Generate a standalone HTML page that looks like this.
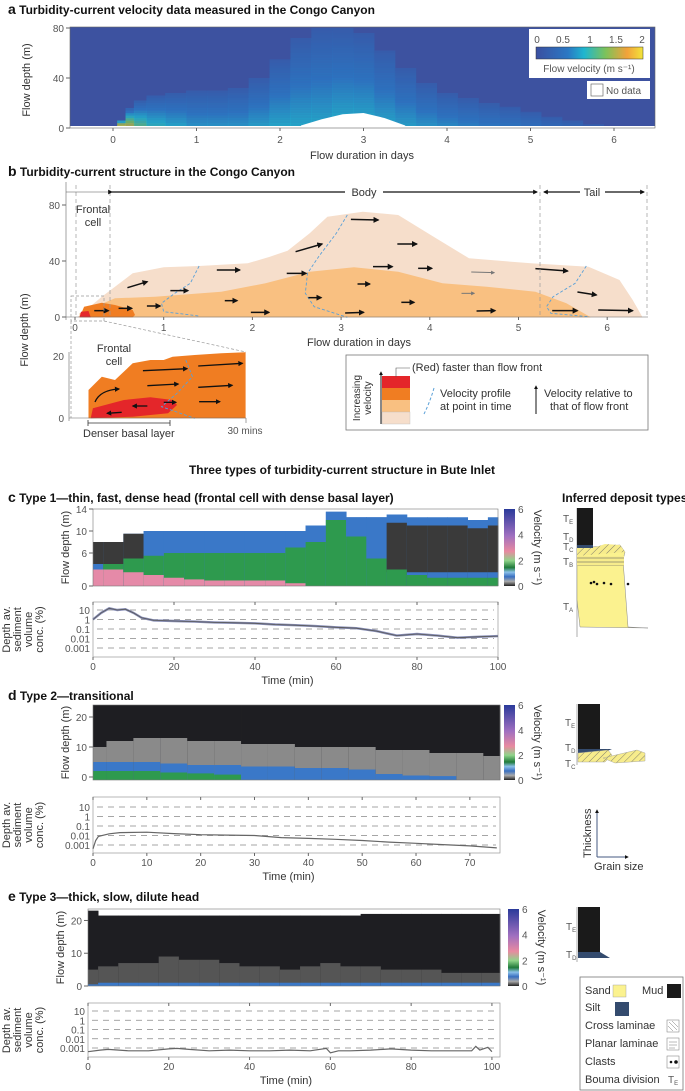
<!DOCTYPE html>
<html><head><meta charset="utf-8"><style>
html,body{margin:0;padding:0;background:#fff}
svg{display:block;font-family:"Liberation Sans",sans-serif}
.t{font-weight:bold;font-size:12px;fill:#111}
.k{font-size:10px;fill:#555}
.l{font-size:11px;fill:#333}
</style></head><body>
<svg id="fig" width="685" height="1091" viewBox="0 0 685 1091" xmlns="http://www.w3.org/2000/svg">
<defs>
<linearGradient id="gA" x1="0" x2="1" y1="0" y2="0"><stop offset="0" stop-color="#3b4fa0"/><stop offset="0.3" stop-color="#2a78c4"/><stop offset="0.45" stop-color="#1fb6cf"/><stop offset="0.65" stop-color="#7cc25a"/><stop offset="0.85" stop-color="#f2a23a"/><stop offset="1" stop-color="#f2e43a"/></linearGradient>
<linearGradient id="gV" x1="0" x2="0" y1="1" y2="0"><stop offset="0" stop-color="#222"/><stop offset="0.06" stop-color="#aaa"/><stop offset="0.12" stop-color="#3a6fc0"/><stop offset="0.18" stop-color="#8bc0e8"/><stop offset="0.24" stop-color="#1f7a3a"/><stop offset="0.33" stop-color="#8fd48a"/><stop offset="0.45" stop-color="#e88aa0"/><stop offset="0.65" stop-color="#a070c0"/><stop offset="1" stop-color="#2a3a9a"/></linearGradient>
<pattern id="hatch" width="5" height="5" patternUnits="userSpaceOnUse" patternTransform="rotate(45)"><rect width="5" height="5" fill="#f7ec8c"/><line x1="0" y1="0" x2="0" y2="5" stroke="#666" stroke-width="0.8"/></pattern>
<pattern id="plan" width="6" height="4" patternUnits="userSpaceOnUse"><rect width="6" height="4" fill="#f7ec8c"/><line x1="0" y1="2" x2="6" y2="2" stroke="#666" stroke-width="0.6"/></pattern>
<marker id="ah" viewBox="0 0 10 10" refX="8" refY="5" markerWidth="4" markerHeight="4" orient="auto"><path d="M0,0L10,5L0,10z" fill="#111"/></marker>
<marker id="ahg" viewBox="0 0 10 10" refX="8" refY="5" markerWidth="4" markerHeight="4" orient="auto"><path d="M0,0L10,5L0,10z" fill="#777"/></marker>
</defs>

<!-- Panel a -->
<text x="8" y="14" class="t"><tspan font-size="14">a</tspan> Turbidity-current velocity data measured in the Congo Canyon</text>
<rect x="70" y="27" width="585" height="101" fill="#3d52a0"/>
<g id="aHeat"></g>
<g id="aAxes"></g>
<text x="30" y="80" class="l" transform="rotate(-90 30 80)" text-anchor="middle">Flow depth (m)</text>
<text x="362" y="159" class="l" text-anchor="middle">Flow duration in days</text>
<g>
<rect x="529" y="29" width="121" height="49" fill="#fff"/>
<rect x="536" y="47" width="107" height="12" fill="url(#gA)" stroke="#333" stroke-width="0.5"/>
<text x="537" y="43" class="k" text-anchor="middle">0</text><text x="563" y="43" class="k" text-anchor="middle">0.5</text><text x="590" y="43" class="k" text-anchor="middle">1</text><text x="616" y="43" class="k" text-anchor="middle">1.5</text><text x="642" y="43" class="k" text-anchor="middle">2</text>
<text x="589" y="72" class="k" text-anchor="middle">Flow velocity (m s⁻¹)</text>
</g>
<g><rect x="587" y="81" width="63" height="18" fill="#fff"/><rect x="591" y="84" width="12" height="12" fill="#fff" stroke="#555" stroke-width="0.6"/><text x="606" y="94" class="k" font-size="11">No data</text></g>

<!-- Panel b -->
<text x="8" y="176" class="t"><tspan font-size="14">b</tspan> Turbidity-current structure in the Congo Canyon</text>
<g id="bMain"></g>
<text x="28" y="330" class="l" transform="rotate(-90 28 330)" text-anchor="middle">Flow depth (m)</text>
<text x="359" y="346" class="l" text-anchor="middle">Flow duration in days</text>
<g>
<line x1="66" y1="192" x2="108" y2="192" stroke="#555" stroke-width="0.6"/>
<line x1="112" y1="192" x2="345" y2="192" stroke="#111" stroke-width="1.2" marker-start="url(#ah)"/>
<line x1="383" y1="192" x2="537" y2="192" stroke="#111" stroke-width="1.2" marker-end="url(#ah)"/>
<text x="364" y="196" class="l" text-anchor="middle">Body</text>
<line x1="580" y1="192" x2="544" y2="192" stroke="#111" stroke-width="1.2" marker-end="url(#ah)"/>
<line x1="605" y1="192" x2="644" y2="192" stroke="#111" stroke-width="1.2" marker-end="url(#ah)"/>
<text x="592" y="196" class="l" text-anchor="middle">Tail</text>
<text x="93" y="213" class="l" text-anchor="middle">Frontal</text><text x="93" y="226" class="l" text-anchor="middle">cell</text>
</g>
<g id="bInset"></g>
<g>
<rect x="346" y="355" width="302" height="75" fill="#fff" stroke="#777" stroke-width="0.8"/>
<text x="360" y="398" font-size="10" fill="#333" transform="rotate(-90 360 398)" text-anchor="middle">Increasing</text>
<text x="371" y="398" font-size="10" fill="#333" transform="rotate(-90 371 398)" text-anchor="middle">velocity</text>
<line x1="381" y1="424" x2="381" y2="372" stroke="#111" stroke-width="1" marker-end="url(#ah)"/>
<rect x="382" y="376" width="28" height="12" fill="#e4262a"/><rect x="382" y="388" width="28" height="12" fill="#f07d22"/><rect x="382" y="400" width="28" height="12" fill="#f9c081"/><rect x="382" y="412" width="28" height="12" fill="#f6decb" stroke="#bbb" stroke-width="0.4"/>
<polyline points="396,377 396,368 410,368" fill="none" stroke="#555" stroke-width="0.6"/>
<text x="412" y="371" class="l">(Red) faster than flow front</text>
<path d="M434,388 Q430,402 424,414" fill="none" stroke="#5aa0d8" stroke-dasharray="3,2"/>
<text x="440" y="397" class="l">Velocity profile</text><text x="440" y="410" class="l">at point in time</text>
<line x1="536" y1="414" x2="536" y2="386" stroke="#111" marker-end="url(#ah)"/>
<text x="544" y="397" class="l">Velocity relative to</text><text x="550" y="410" class="l">that of flow front</text>
</g>

<text x="342" y="474" class="t" text-anchor="middle" font-size="11.5">Three types of turbidity-current structure in Bute Inlet</text>
<text x="8" y="502" class="t"><tspan font-size="14">c</tspan> Type 1—thin, fast, dense head (frontal cell with dense basal layer)</text>
<text x="562" y="502" class="t">Inferred deposit types</text>
<text x="8" y="700" class="t"><tspan font-size="14">d</tspan> Type 2—transitional</text>
<text x="8" y="901" class="t"><tspan font-size="14">e</tspan> Type 3—thick, slow, dilute head</text>
<g id="cde"></g>
<g id="deposits"></g>
<g>
<rect x="580" y="977" width="103" height="113" fill="#fff" stroke="#777" stroke-width="0.8"/>
<text x="585" y="994" class="l">Sand</text><rect x="613" y="985" width="13" height="12" fill="#fbf28f" stroke="#999" stroke-width="0.4"/>
<text x="642" y="994" class="l">Mud</text><rect x="667" y="984" width="14" height="14" fill="#1a1a1a"/>
<text x="585" y="1011" class="l">Silt</text><rect x="615" y="1002" width="14" height="14" fill="#344b6e"/>
<text x="585" y="1029" class="l">Cross laminae</text><rect x="667" y="1020" width="12" height="12" fill="#fff" stroke="#777" stroke-width="0.5"/><path d="M669,1022l8,8M672,1021l6,6M668,1026l5,5" stroke="#777" stroke-width="0.5"/>
<text x="585" y="1047" class="l">Planar laminae</text><rect x="667" y="1038" width="12" height="12" fill="#fff" stroke="#777" stroke-width="0.5"/><path d="M669,1042h8M669,1045h8M669,1048h6" stroke="#777" stroke-width="0.5"/>
<text x="585" y="1065" class="l">Clasts</text><rect x="667" y="1056" width="12" height="12" fill="#fff" stroke="#777" stroke-width="0.5"/><circle cx="671" cy="1062" r="1.3" fill="#111"/><circle cx="676" cy="1062" r="1.8" fill="#111"/>
<text x="585" y="1083" class="l">Bouma division</text><text x="668" y="1083" class="k">T<tspan font-size="6" dy="2">E</tspan></text>
</g>
<g>
<line x1="597" y1="857" x2="597" y2="810" stroke="#445a80" stroke-width="1" marker-end="url(#ah)"/>
<line x1="597" y1="857" x2="628" y2="857" stroke="#445a80" stroke-width="1" marker-end="url(#ah)"/>
<text x="591" y="858" class="l" transform="rotate(-90 591 858)">Thickness</text>
<text x="594" y="870" class="l">Grain size</text>
</g>
</svg>
<script>
var NS='http://www.w3.org/2000/svg';
function mk(tag,attrs,parent){var e=document.createElementNS(NS,tag);for(var k in attrs)e.setAttribute(k,attrs[k]);parent.appendChild(e);return e;}
function txt(s,attrs,parent){var e=mk('text',attrs,parent);e.textContent=s;return e;}

// ---------- Panel a data ----------
var aDays=[0.1,0.2,0.3,0.5,0.75,1,1.25,1.5,1.75,2,2.25,2.5,2.75,3,3.25,3.5,3.75,4,4.25,4.5,4.75,5,5.25,5.5,5.75,6];
var aHeight=[6,16,22,26,28,30,30,32,40,55,72,80,80,76,62,48,36,28,24,20,17,13,9,6,3,1];
var aVel=[2.0,1.6,1.2,1.0,0.9,0.8,0.8,0.8,0.85,0.9,0.9,0.9,0.95,0.95,0.9,0.85,0.8,0.75,0.7,0.65,0.6,0.55,0.45,0.4,0.3,0.2];
var aNoDataDays=[2.25,2.5,2.75,3,3.25,3.5];
var aNoDataHeight=[2,7,11,12,8,2];
var aTicks=[0,1,2,3,4,5,6];
var aYTicks=[0,40,80];
var ax=function(d){return 113+83.5*d;}, ay=function(m){return 128-1.25*m;};
function velColor(v){
 var st=[[0,[59,79,160]],[0.6,[42,120,196]],[0.9,[31,182,207]],[1.3,[124,194,90]],[1.7,[242,162,58]],[2,[242,228,58]]];
 v=Math.max(0,Math.min(2,v));
 for(var i=1;i<st.length;i++){if(v<=st[i][0]){var a=st[i-1],b=st[i],f=(v-a[0])/(b[0]-a[0]);return 'rgb('+a[1].map(function(c,j){return Math.round(c+(b[1][j]-c)*f);}).join(',')+')';}}
 return 'rgb(242,228,58)';
}
var aH=document.getElementById('aHeat');
for(var i=0;i<aDays.length;i++){
 var d0=i?(aDays[i-1]+aDays[i])/2:aDays[i]-0.05, d1=i<aDays.length-1?(aDays[i]+aDays[i+1])/2:aDays[i]+0.15;
 var H=aHeight[i];
 for(var m=0;m<H;m+=2){
  var v=0.2+(aVel[i]-0.2)*Math.pow(1-m/H,0.9);
  var r=mk('rect',{x:ax(d0),y:ay(Math.min(m+2,H)),width:ax(d1)-ax(d0)+0.5,height:ay(m)-ay(Math.min(m+2,H))+0.3,fill:velColor(v),opacity:0.8},aH);
  
  
 }
}
var nd='M'+ax(aNoDataDays[0])+','+ay(0);
for(var i=0;i<aNoDataDays.length;i++)nd+=' L'+ax(aNoDataDays[i])+','+ay(aNoDataHeight[i]);
nd+=' L'+ax(aNoDataDays[aNoDataDays.length-1])+','+ay(0)+'Z';
var ndp=mk('path',{d:nd,fill:'#fff'},aH);


var base=mk('rect',{x:70,y:126,width:585,height:3,fill:'#fff'},aH);


var aA=document.getElementById('aAxes');
mk('rect',{x:70,y:27,width:585,height:101,fill:'none',stroke:'#666','stroke-width':0.6},aA);
aTicks.forEach(function(t){mk('line',{x1:ax(t),x2:ax(t),y1:128,y2:131,stroke:'#666'},aA);var e=txt(String(t),{x:ax(t),y:143,'class':'k','text-anchor':'middle'},aA);});
aYTicks.forEach(function(t){mk('line',{x1:66,x2:70,y1:ay(t),y2:ay(t),stroke:'#666'},aA);var e=txt(String(t),{x:64,y:ay(t)+4,'class':'k','text-anchor':'end'},aA);});

// ---------- Panel b ----------
var bx=function(d){return 75+88.7*d;}, by=function(m){return 317-1.4*m;};
var bTicks=[0,1,2,3,4,5,6], bYTicks=[0,40,80];
var B=document.getElementById('bMain');
function P(pts){return pts.map(function(p){return (p[0]/2.26).toFixed(1)+','+(160+p[1]/3).toFixed(1);}).join(' ');}
var outerPts=[[175,472],[230,410],[300,340],[370,322],[450,318],[560,310],[610,290],[650,272],[700,220],[740,170],[820,155],[900,165],[980,230],[1060,295],[1200,310],[1330,320],[1400,360],[1430,420],[1452,472]];
var midPts=[[180,472],[180,460],[260,415],[350,410],[500,395],[600,370],[700,335],[800,322],[900,335],[1000,370],[1100,380],[1210,395],[1280,430],[1335,472]];
var darkPts=[[180,472],[190,440],[230,428],[260,435],[300,450],[305,465],[300,472]];
var redPts=[[180,472],[183,455],[200,453],[205,472]];
[[outerPts,'#f6decb','outer-body-region'],[midPts,'#f9c081','inner-body-region'],[darkPts,'#f07d22','frontal-cell-region'],[redPts,'#e4262a','fast-red-region']].forEach(function(s){
 var e=mk('polygon',{points:P(s[0]),fill:s[1]},B);
 
 
});
[[[450,318],[430,370],[395,400],[365,430],[370,455],[450,468]],[[785,165],[760,220],[720,290],[695,340],[690,400],[710,440],[785,472]],[[1325,318],[1300,370],[1250,410],[1235,440],[1245,460],[1330,470]]].forEach(function(pp){
 var e=mk('polyline',{points:P(pp),fill:'none',stroke:'#5aa0d8','stroke-width':0.9,'stroke-dasharray':'3,2'},B);
 
 
});
var bArrows=[[288,383,333,365],[385,392,425,392],[332,438,362,438],[213,452,245,452],[268,445,298,445],[490,330,542,330],[508,422,536,422],[567,457,608,457],[648,340,692,340],[668,275,728,252],[793,178,855,180],[808,372,836,372],[697,413,726,413],[780,459,822,457],[843,320,887,320],[898,252,942,252],[907,427,936,427],[945,325,976,325],[1077,453,1119,452],[1210,326,1283,333],[1248,452,1305,452],[1305,396,1348,405],[1352,450,1430,452]];
bArrows.forEach(function(a){
 var e=mk('line',{x1:a[0]/2.26,y1:160+a[1]/3,x2:a[2]/2.26,y2:160+a[3]/3,stroke:'#111','stroke-width':1.5,'marker-end':'url(#ah)'},B);
 
 
});
[[1065,336,1117,338],[1043,400,1072,400]].forEach(function(a){
 var e=mk('line',{x1:a[0]/2.26,y1:160+a[1]/3,x2:a[2]/2.26,y2:160+a[3]/3,stroke:'#777','stroke-width':1,'marker-end':'url(#ahg)'},B);
 
 
});
[76,110,540,647].forEach(function(x){mk('line',{x1:x,x2:x,y1:185,y2:317,stroke:'#999','stroke-width':0.7,'stroke-dasharray':'4,3'},B);});
mk('line',{x1:66,x2:66,y1:182,y2:320,stroke:'#666','stroke-width':0.6},B);
mk('line',{x1:66,x2:648,y1:317,y2:317,stroke:'#666','stroke-width':0.6},B);
bTicks.forEach(function(t){mk('line',{x1:bx(t),x2:bx(t),y1:317,y2:320,stroke:'#666'},B);var e=txt(String(t),{x:bx(t),y:331,'class':'k','text-anchor':'middle'},B);});
bYTicks.forEach(function(t){mk('line',{x1:62,x2:66,y1:by(t),y2:by(t),stroke:'#666'},B);var e=txt(String(t),{x:60,y:by(t)+4,'class':'k','text-anchor':'end'},B);});
mk('rect',{x:71,y:296,width:33,height:25,fill:'none',stroke:'#999','stroke-width':0.7,'stroke-dasharray':'3,2'},B);
mk('line',{x1:71,y1:321,x2:71,y2:418,stroke:'#999','stroke-width':0.7,'stroke-dasharray':'3,2'},B);
mk('line',{x1:104,y1:321,x2:246,y2:352,stroke:'#999','stroke-width':0.7,'stroke-dasharray':'3,2'},B);
// inset
var I=document.getElementById('bInset');
var insetOrange=[[200,775],[200,690],[230,650],[260,660],[300,610],[340,600],[370,600],[390,590],[440,585],[500,580],[555,577],[555,775]];
var insetRed=[[205,775],[210,745],[280,720],[340,712],[390,720],[400,735],[380,760],[300,770]];
var e1=mk('polygon',{points:P(insetOrange),fill:'#f07d22'},I);
var e2=mk('polygon',{points:P(insetRed),fill:'#e4262a'},I);
mk('polyline',{points:P([[420,600],[435,650],[400,700],[365,740],[440,775]]),fill:'none',stroke:'#5aa0d8','stroke-width':0.9,'stroke-dasharray':'3,2'},I);
[[323,632,423,626],[448,618,548,610],[333,677,403,672],[448,682,525,676],[450,725,497,725],[370,727,398,727],[333,738,300,738],[275,757,242,760]].forEach(function(a){
 var e=mk('line',{x1:a[0]/2.26,y1:160+a[1]/3,x2:a[2]/2.26,y2:160+a[3]/3,stroke:'#111','stroke-width':1.3,'marker-end':'url(#ah)'},I);
 
 
});
mk('path',{d:'M95,402 Q100,390 119,389',fill:'none',stroke:'#111','stroke-width':1.3,'marker-end':'url(#ah)'},I);
mk('line',{x1:69,x2:69,y1:352,y2:421,stroke:'#666','stroke-width':0.6},I);
mk('line',{x1:69,x2:246,y1:418,y2:418,stroke:'#666','stroke-width':0.6},I);
mk('line',{x1:246,x2:246,y1:418,y2:423,stroke:'#666','stroke-width':0.6},I);
txt('20',{x:64,y:360,'class':'k','text-anchor':'end'},I);txt('0',{x:64,y:422,'class':'k','text-anchor':'end'},I);
txt('Frontal',{x:114,y:352,'class':'l','text-anchor':'middle'},I);txt('cell',{x:114,y:365,'class':'l','text-anchor':'middle'},I);
mk('path',{d:'M88,420v6M88,423H170M170,420v6',stroke:'#333','stroke-width':0.8,fill:'none'},I);
txt('Denser basal layer',{x:83,y:437,'class':'l'},I);
txt('30 mins',{x:245,y:434,'class':'k','text-anchor':'middle'},I);

// ---------- Bute inlet panels ----------
var cTimes=[0,5,10,15,20,25,30,35,40,45,50,55,60,65,70,75,80,85,90,95,100];
var cTop=[8,8,9.5,10,10,10,10,10,10,10,10,11,13.5,12.5,12.5,13,12.5,12.5,12.5,12,12.5];
var cGreen=[3,4,5,5.5,6,6,6,6,6,6,7,8,12,9,5,3,2,1.5,1.5,1.5,1.5];
var cPink=[3,3,2.5,2,1.5,1.2,1,1,1,1,0.5,0,0,0,0,0,0,0,0,0,0];
var cConcT=[0,2,4,6,8,10,12,15,20,25,30,35,40,45,50,55,60,65,70,75,80,85,90,95,100];
var cConc=[1,5,15,10,12,5,1.5,0.8,0.7,0.6,0.5,0.45,0.4,0.3,0.25,0.2,0.15,0.12,0.06,0.02,0.03,0.02,0.012,0.015,0.018];
var dTimes=[0,5,10,15,20,25,30,35,40,45,50,55,60,65,70,75];
var dTop=[24,24,24,24,24,24,24,24,24,24,24,24,24,24,24,24];
var dGray=[10,12,13,13,12,12,11,11,10,10,10,9,9,8,8,7];
var dBlue=[5,5,5,4.5,4,4,3.5,3.5,3,3,2.5,1,0.5,0.3,0,0];
var dGreen=[2,2,2,1.5,1.2,0.8,0,0,0,0,0,0,0,0,0,0];
var dConcT=[0,0.5,1,3,5,10,15,20,25,30,35,40,45,50,55,60,65,70,75];
var dConc=[0.0004,0.003,0.008,0.015,0.02,0.022,0.016,0.012,0.011,0.01,0.006,0.005,0.004,0.003,0.002,0.0015,0.0011,0.0008,0.0005];
var eTimes=[0,5,10,15,20,25,30,35,40,45,50,55,60,65,70,75,80,85,90,95,100];
var eTop=[23,21.5,21.5,21.5,21.5,21.5,21.5,21.5,21.5,21.5,21.5,21.5,21.5,21.5,22,22,22,22,22,22,22];
var eGray=[5,6,7,7,9,8,8,7,6,6,5,6,7,6,6,5,5,5,4,4,4];
var eBlue=[0.5,1,1,1,1,1,1,1,1,1,1,1,1,1,1,1,1,1,1,1,1];
var eConcT=[0,3,5,10,15,20,22,25,30,35,40,45,50,55,59,60,62,65,70,75,80,85,90,95,96,97,99,100];
var eConc=[0.0004,0.0006,0.0007,0.0005,0.0005,0.0008,0.0009,0.0007,0.0005,0.0006,0.0005,0.0005,0.0006,0.0005,0.0009,0.0003,0.0005,0.0005,0.0006,0.0008,0.0006,0.0005,0.0005,0.0005,0.0015,0.0006,0.0012,0.0004];
var cXTicks=[0,20,40,60,80,100], dXTicks=[0,10,20,30,40,50,60,70], eXTicks=[0,20,40,60,80,100];
var cYTicks=[0,6,10,14], dYTicks=[0,10,20], eYTicks=[0,10,20];
var concTicks=[10,1,0.1,0.01,0.001], concLabels=['10','1','0.1','0.01','0.001'];

var G=document.getElementById('cde');
function panel(cfg){
 var X=function(t){return cfg.x0+(t-cfg.t0)*(cfg.x1-cfg.x0)/(cfg.tmax-cfg.t0);};
 var Y=function(m){return cfg.yb-(m-cfg.ymin)*(cfg.yb-cfg.yt)/(cfg.ymax-cfg.ymin);};
 var g=mk('g',{},G);
 
 
 mk('rect',{x:cfg.x0,y:cfg.yt,width:cfg.x1-cfg.x0,height:cfg.yb-cfg.yt,fill:'#fff'},g);
 var T=cfg.times, n=T.length;
 for(var i=0;i<n;i++){
  var t0=i?(T[i-1]+T[i])/2:T[0], t1=i<n-1?(T[i]+T[i+1])/2:cfg.tmax;
  var xx=X(t0), w=X(t1)-X(t0)+0.4;
  var layers=[[cfg.top[i],cfg.topCol],[cfg.gray[i],cfg.grayCol],[cfg.blue[i],'#3a78c8'],[cfg.green[i],'#2e9a4e'],[cfg.pink?cfg.pink[i]:0,'#e58aa8']];
  layers.forEach(function(L){if(L[0]>0){var r=mk('rect',{x:xx,y:Y(Math.min(L[0],cfg.ymax)),width:w,height:Y(cfg.ymin)-Y(Math.min(L[0],cfg.ymax)),fill:L[1]},g);}});
 }
 mk('rect',{x:cfg.x0,y:cfg.yt,width:cfg.x1-cfg.x0,height:cfg.yb-cfg.yt,fill:'none',stroke:'#777','stroke-width':0.6},g);
 cfg.yTicks.forEach(function(t){mk('line',{x1:cfg.x0-4,x2:cfg.x0,y1:Y(t),y2:Y(t),stroke:'#666'},g);var e=txt(String(t),{x:cfg.x0-6,y:Y(t)+4,'class':'k','text-anchor':'end','font-size':11},g);});
 txt('Flow depth (m)',{x:cfg.x0-24,y:(cfg.yt+cfg.yb)/2,'class':'l',transform:'rotate(-90 '+(cfg.x0-24)+' '+((cfg.yt+cfg.yb)/2)+')','text-anchor':'middle'},g);
 var cb=mk('rect',{x:cfg.cbx,y:cfg.yt,width:11,height:cfg.yb-cfg.yt,fill:'url(#gV)'},g);
 
 
 [0,2,4,6].forEach(function(v){var yy=cfg.yb-v*(cfg.yb-cfg.yt)/6;txt(String(v),{x:cfg.cbx+14,y:yy+4,'class':'k','font-size':11},g);});
 var vy=(cfg.yt+cfg.yb)/2;
 txt('Velocity (m s⁻¹)',{x:cfg.cbx+30,y:vy,'class':'l',transform:'rotate(90 '+(cfg.cbx+30)+' '+vy+')','text-anchor':'middle'},g);
 var gc=mk('g',{},G);
 
 
 var cx0=cfg.x0, cx1=cfg.x1;
 var CY=function(v){return cfg.c10+(1-Math.log10(v))*cfg.cgap;};
 mk('rect',{x:cx0,y:cfg.ct,width:cx1-cx0,height:cfg.cb-cfg.ct,fill:'none',stroke:'#999','stroke-width':0.7},gc);
 concTicks.forEach(function(v,k){mk('line',{x1:cx0+4,x2:cx1-4,y1:CY(v),y2:CY(v),stroke:'#888','stroke-width':0.7,'stroke-dasharray':'6,5'},gc);var e=txt(concLabels[k],{x:cx0-3,y:CY(v)+4,'class':'k','text-anchor':'end'},gc);});
 cfg.xTicks.forEach(function(t){mk('line',{x1:X(t),x2:X(t),y1:cfg.cb,y2:cfg.cb+3,stroke:'#666'},gc);mk('line',{x1:X(t),x2:X(t),y1:cfg.ct,y2:cfg.ct+3,stroke:'#666'},gc);var e=txt(String(t),{x:X(t),y:cfg.cb+13,'class':'k','font-size':11,'text-anchor':'middle'},gc);});
 txt('Time (min)',{x:(cx0+cx1)/2-8,y:cfg.cb+27,'class':'l','text-anchor':'middle'},gc);
 var pts=cfg.ct_.map(function(t,k){return X(t).toFixed(1)+','+CY(cfg.conc[k]).toFixed(1);}).join(' ');
 var pl=mk('polyline',{points:pts,fill:'none',stroke:cfg.name==='type1'?'#8a90b8':'#666','stroke-width':cfg.name==='type1'?2.4:1.2},gc);
 
 
 if(cfg.name==='type1'){var p2=mk('polyline',{points:pts,fill:'none',stroke:'#555','stroke-width':0.8},gc);}
 var my=(cfg.ct+cfg.cb)/2;
 ['Depth av.','sediment','volume','conc. (%)'].forEach(function(s,k){var xx=10+k*11;txt(s,{x:xx,y:my,'class':'l',transform:'rotate(-90 '+xx+' '+my+')','text-anchor':'middle'},gc);});
}
panel({name:'type1',times:cTimes,top:cTop,gray:cTop.map(function(v,k){return k<3?v:(k>=15?v-1.5:0);}),blue:cTop.map(function(v,k){return k<3?Math.min(v,4):(k>=15?2.5:v);}),green:cGreen,pink:cPink,topCol:'#3a78c8',grayCol:'#3a3a3a',
 t0:0,tmax:100,x0:93,x1:498,yt:509,yb:586,ymin:0,ymax:14,yTicks:cYTicks,cbx:504,xTicks:cXTicks,ct:602,cb:657,c10:610,cgap:9.5,ct_:cConcT,conc:cConc});
panel({name:'type2',times:dTimes,top:dTop,gray:dGray,blue:dBlue,green:dGreen,topCol:'#1e1e22',grayCol:'#8a8a8a',
 t0:0,tmax:75.6,x0:93,x1:500,yt:705,yb:780,ymin:-1,ymax:24,yTicks:dYTicks,cbx:504,xTicks:dXTicks,ct:797,cb:853,c10:807,cgap:9.5,ct_:dConcT,conc:dConc});
panel({name:'type3',times:eTimes,top:eTop,gray:eGray,blue:eBlue,green:eTimes.map(function(){return 0;}),topCol:'#1e1e22',grayCol:'#555',
 t0:0,tmax:102,x0:88,x1:500,yt:909,yb:986,ymin:0,ymax:23.5,yTicks:eYTicks,cbx:508,xTicks:eXTicks,ct:1003,cb:1057,c10:1011,cgap:9.25,ct_:eConcT,conc:eConc});

// ---------- deposits ----------
var D=document.getElementById('deposits');
function dep(tag,attrs,name){var e=mk(tag,attrs,D);return e;}
dep('line',{x1:577,x2:577,y1:508,y2:637,stroke:'#777','stroke-width':0.6},'deposit-c-axis');
dep('polygon',{points:'577,548 620,545 625,552 623,560 628,627 648,628 580,627 577,600',fill:'#fbf28f',stroke:'#888','stroke-width':0.5},'deposit-c-sand');
dep('polygon',{points:'577,548 593,548 605,544 620,545 625,552 577,556',fill:'url(#hatch)'},'deposit-c-cross-laminae');
dep('rect',{x:577,y:556,width:47,height:10,fill:'url(#plan)'},'deposit-c-planar-laminae');
dep('rect',{x:577,y:508,width:16,height:37,fill:'#1a1a1a'},'deposit-c-mud');
dep('rect',{x:577,y:545,width:16,height:3,fill:'#344b6e'},'deposit-c-silt');
[[591,583],[594,582],[597,584],[604,583],[611,584],[628,584]].forEach(function(p){dep('circle',{cx:p[0],cy:p[1],r:1.3,fill:'#111'},'deposit-c-clast');});
dep('line',{x1:577,x2:577,y1:704,y2:765,stroke:'#777','stroke-width':0.6},'deposit-d-axis');
dep('rect',{x:578,y:704,width:22,height:45,fill:'#1a1a1a'},'deposit-d-mud');
dep('polygon',{points:'578,749 612,749 605,752 578,753',fill:'#344b6e'},'deposit-d-silt');
dep('polygon',{points:'578,753 608,750 612,755 605,762 578,762',fill:'url(#hatch)',stroke:'#999','stroke-width':0.4},'deposit-d-cross-1');
dep('polygon',{points:'603,758 637,750 645,753 645,761 615,763',fill:'url(#hatch)',stroke:'#999','stroke-width':0.4},'deposit-d-cross-2');
dep('line',{x1:577,x2:577,y1:907,y2:962,stroke:'#777','stroke-width':0.6},'deposit-e-axis');
dep('rect',{x:578,y:907,width:22,height:45,fill:'#1a1a1a'},'deposit-e-mud');
dep('polygon',{points:'578,952 600,952 610,958 578,958',fill:'#344b6e'},'deposit-e-silt');
function bouma(x,y,s,name){var e=dep('text',{x:x,y:y,'class':'k',fill:'#888'},name);e.textContent='T';var ts=document.createElementNS(NS,'tspan');ts.setAttribute('font-size','6');ts.setAttribute('dy','2');ts.textContent=s;e.appendChild(ts);}
bouma(563,522,'E','bouma-c-te');bouma(563,540,'D','bouma-c-td');bouma(563,550,'C','bouma-c-tc');bouma(563,565,'B','bouma-c-tb');bouma(563,610,'A','bouma-c-ta');
bouma(565,726,'E','bouma-d-te');bouma(565,751,'D','bouma-d-td');bouma(565,767,'C','bouma-d-tc');
bouma(566,930,'E','bouma-e-te');bouma(566,958,'D','bouma-e-td');
</script>
</body></html>
